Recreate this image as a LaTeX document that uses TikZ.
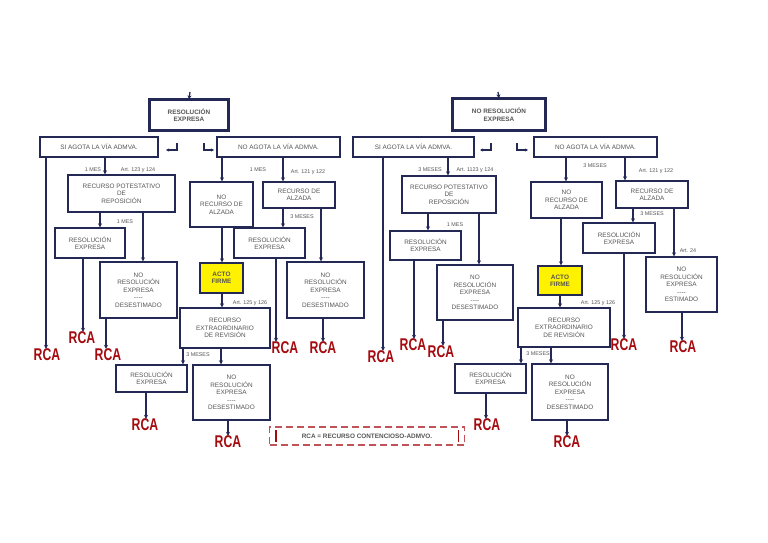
\documentclass[tikz,border=0pt]{standalone}
\usepackage{fontspec}
\setmainfont{Liberation Sans}
\usetikzlibrary{arrows.meta}
\definecolor{navy}{RGB}{35,40,85}
\definecolor{rcared}{RGB}{165,10,15}
\definecolor{txtg}{RGB}{85,85,85}
\tikzset{
  box/.style={draw=navy,line width=1.4pt,fill=white,align=center,inner sep=0pt,
    text=txtg,font=\fontsize{6.4}{7.4}\selectfont},
  arr/.style={draw=navy,line width=1.3pt,-{Stealth[length=4pt,width=4pt]}},
  lbl/.style={text=txtg,font=\fontsize{5.4}{6}\selectfont,inner sep=0pt},
  rca/.style={text=rcared,font=\fontsize{17}{17}\bfseries\selectfont,xscale=0.72,inner sep=0pt}
}
\newcommand\bx[6]{\node[box,minimum width={(#4-#2)*1pt},minimum height={(#5-#3)*1pt}] (#1) at ({(#2+#4)/2},{(#3+#5)/2}) {#6};}
\newcommand\cn[3]{\draw[arr] (#1.south -| #3,0) -- (#2.north -| #3,0);}
\newcommand\dsh{{-}{-}{-}{-}}
\begin{document}
\begin{tikzpicture}[x=1pt,y=-1pt]
\useasboundingbox (0,0) rectangle (768,543);
% ================= LEFT =================
\bx{t1}{150}{100}{228}{130}{\bfseries RESOLUCIÓN\\\bfseries EXPRESA}
\draw[navy,line width=2.6pt] (t1.north west) rectangle (t1.south east);
\coordinate (t1top) at (190,92);
\draw[arr] (t1top) -- (t1.north);
\bx{si1}{40}{137}{158}{157}{SI AGOTA LA VÍA ADMVA.}
\bx{no1}{217}{137}{340}{157}{NO AGOTA LA VÍA ADMVA.}
\coordinate (h1a) at (177,143); \coordinate (h1b) at (166,150);
\draw[navy,line width=1.2pt,-{Stealth[length=3pt,width=3pt]}] (h1a) |- (h1b);
\coordinate (h2a) at (204,143); \coordinate (h2b) at (214,150);
\draw[navy,line width=1.2pt,-{Stealth[length=3pt,width=3pt]}] (h2a) |- (h2b);
\bx{rpr1}{68}{175}{175}{212}{RECURSO POTESTATIVO\\DE\\REPOSICIÓN}
\bx{re1}{55}{228}{125}{258}{RESOLUCIÓN\\EXPRESA}
\bx{nre1}{100}{262}{177}{318}{NO\\RESOLUCIÓN\\EXPRESA\\\dsh\\DESESTIMADO}
\bx{nra1}{190}{182}{253}{227}{NO\\RECURSO DE\\ALZADA}
\bx{ra1}{263}{182}{335}{208}{RECURSO DE\\ALZADA}
\bx{re2}{234}{228}{305}{258}{RESOLUCIÓN\\EXPRESA}
\bx{nre2}{287}{262}{364}{318}{NO\\RESOLUCIÓN\\EXPRESA\\\dsh\\DESESTIMADO}
\node[box,fill=yellow,text=txtg,minimum width=43pt,minimum height=30pt] (af1) at (221.5,278) {\bfseries ACTO\\\bfseries FIRME};
\bx{rer1}{180}{308}{270}{348}{RECURSO\\EXTRAORDINARIO\\DE REVISIÓN}
\bx{re3}{116}{365}{187}{392}{RESOLUCIÓN\\EXPRESA}
\bx{nre3}{193}{365}{270}{420}{NO\\RESOLUCIÓN\\EXPRESA\\\dsh\\DESESTIMADO}
\node[rca] (r1) at (47,355) {RCA};
\node[rca] (r2) at (82,338) {RCA};
\node[rca] (r3) at (108,355) {RCA};
\node[rca] (r4) at (285,348) {RCA};
\node[rca] (r5) at (323,348) {RCA};
\node[rca] (r6) at (145,425) {RCA};
\node[rca] (r7) at (228,442) {RCA};
\cn{si1}{r1}{46}
\cn{si1}{rpr1}{105}
\cn{rpr1}{re1}{100}
\cn{rpr1}{nre1}{143}
\cn{re1}{r2}{83}
\cn{nre1}{r3}{106}
\cn{no1}{nra1}{222}
\cn{no1}{ra1}{283}
\cn{nra1}{af1}{222}
\cn{ra1}{re2}{283}
\cn{ra1}{nre2}{321}
\cn{re2}{r4}{276}
\cn{nre2}{r5}{323}
\cn{af1}{rer1}{222}
\cn{rer1}{re3}{183}
\cn{rer1}{nre3}{221}
\cn{re3}{r6}{146}
\cn{nre3}{r7}{228}
\node[lbl] at (93,170) {1 MES};
\node[lbl] at (138,170) {Art. 123 y 124};
\node[lbl] at (125,222) {1 MES};
\node[lbl] at (258,170) {1 MES};
\node[lbl] at (308,172) {Art. 121 y 122};
\node[lbl] at (302,217) {3 MESES};
\node[lbl] at (250,303) {Art. 125 y 126};
\node[lbl] at (198,355) {3 MESES};
% legend
\node[draw=rcared!70,line width=1.6pt,dash pattern=on 7pt off 4pt,minimum width=195pt,minimum height=18pt,inner sep=0pt,
  font=\fontsize{6.4}{7}\bfseries\selectfont,text=txtg] (leg) at (367,436) {RCA = RECURSO CONTENCIOSO-ADMVO.};
\draw[rcared,line width=1.6pt] ([xshift=7pt,yshift=-4pt]leg.north west) -- ([xshift=7pt,yshift=4pt]leg.south west);
\draw[rcared,line width=1.6pt] ([xshift=-7pt,yshift=-4pt]leg.north east) -- ([xshift=-7pt,yshift=4pt]leg.south east);
% ================= RIGHT =================
\bx{t2}{453}{99}{545}{130}{\bfseries NO RESOLUCIÓN\\\bfseries EXPRESA}
\draw[navy,line width=2.6pt] (t2.north west) rectangle (t2.south east);
\coordinate (t2top) at (498,92);
\draw[arr] (t2top) -- (t2.north);
\bx{si2}{353}{137}{474}{157}{SI AGOTA LA VÍA ADMVA.}
\bx{no2}{534}{137}{657}{157}{NO AGOTA LA VÍA ADMVA.}
\coordinate (h3a) at (491,143); \coordinate (h3b) at (480,150);
\draw[navy,line width=1.2pt,-{Stealth[length=3pt,width=3pt]}] (h3a) |- (h3b);
\coordinate (h4a) at (517,143); \coordinate (h4b) at (528,150);
\draw[navy,line width=1.2pt,-{Stealth[length=3pt,width=3pt]}] (h4a) |- (h4b);
\bx{rpr2}{402}{176}{496}{213}{RECURSO POTESTATIVO\\DE\\REPOSICIÓN}
\bx{re4}{390}{231}{461}{260}{RESOLUCIÓN\\EXPRESA}
\bx{nre4}{437}{265}{513}{320}{NO\\RESOLUCIÓN\\EXPRESA\\\dsh\\DESESTIMADO}
\bx{nra2}{531}{182}{602}{218}{NO\\RECURSO DE\\ALZADA}
\bx{ra2}{616}{181}{688}{208}{RECURSO DE\\ALZADA}
\bx{re5}{583}{223}{655}{253}{RESOLUCIÓN\\EXPRESA}
\bx{nre5}{646}{257}{717}{312}{NO\\RESOLUCIÓN\\EXPRESA\\\dsh\\ESTIMADO}
\node[box,fill=yellow,text=txtg,minimum width=44pt,minimum height=29pt] (af2) at (560,280.5) {\bfseries ACTO\\\bfseries FIRME};
\bx{rer2}{518}{308}{610}{347}{RECURSO\\EXTRAORDINARIO\\DE REVISIÓN}
\bx{re6}{455}{364}{526}{393}{RESOLUCIÓN\\EXPRESA}
\bx{nre6}{532}{364}{608}{420}{NO\\RESOLUCIÓN\\EXPRESA\\\dsh\\DESESTIMADO}
\node[rca] (r8) at (381,357) {RCA};
\node[rca] (r9) at (413,345) {RCA};
\node[rca] (r10) at (441,352) {RCA};
\node[rca] (r11) at (624,345) {RCA};
\node[rca] (r12) at (683,347) {RCA};
\node[rca] (r13) at (487,425) {RCA};
\node[rca] (r14) at (567,442) {RCA};
\cn{si2}{r8}{383}
\cn{si2}{rpr2}{448}
\cn{rpr2}{re4}{428}
\cn{rpr2}{nre4}{479}
\cn{re4}{r9}{414}
\cn{nre4}{r10}{443}
\cn{no2}{nra2}{566}
\cn{no2}{ra2}{625}
\cn{nra2}{af2}{561}
\cn{ra2}{re5}{633}
\cn{ra2}{nre5}{674}
\cn{re5}{r11}{624}
\cn{nre5}{r12}{682}
\cn{af2}{rer2}{560}
\cn{rer2}{re6}{521}
\cn{rer2}{nre6}{551}
\cn{re6}{r13}{486}
\cn{nre6}{r14}{567}
\node[lbl] at (430,170) {3 MESES};
\node[lbl] at (475,170) {Art. 1123 y 124};
\node[lbl] at (455,225) {1 MES};
\node[lbl] at (595,166) {3 MESES};
\node[lbl] at (656,171) {Art. 121 y 122};
\node[lbl] at (652,214) {3 MESES};
\node[lbl] at (688,251) {Art. 24};
\node[lbl] at (598,303) {Art. 125 y 126};
\node[lbl] at (538,354) {3 MESES};
\end{tikzpicture}
\end{document}
